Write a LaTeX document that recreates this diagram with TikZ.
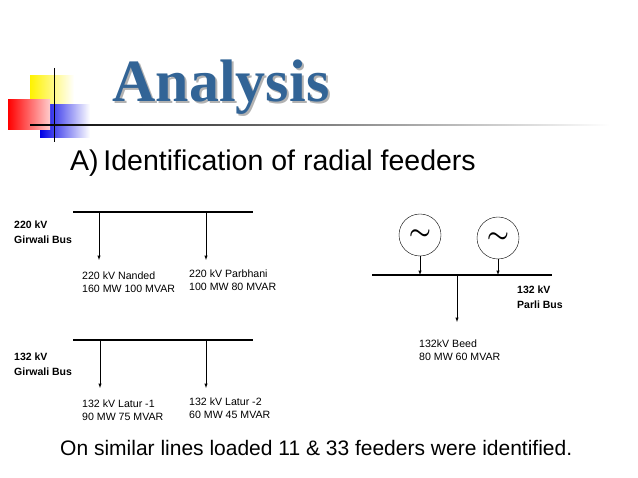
\documentclass[tikz,border=0pt]{standalone}
\usepackage{fontspec}
\setmainfont{Liberation Sans}
\newfontfamily\serifb{Liberation Serif}
\begin{document}
\begin{tikzpicture}[x=1pt,y=-1pt,
  bus/.style={line width=1.6pt},
  fd/.style={-latex,line width=0.5pt},
  lbl/.style={font=\fontsize{10.6}{12.5}\selectfont,align=left,anchor=north west,inner sep=0pt},
  bl/.style={font=\bfseries\fontsize{10.5}{15}\selectfont,align=left,anchor=north west,inner sep=0pt},
  gen/.style={circle,draw,minimum size=42pt,inner sep=0pt,font=\boldmath\fontsize{30}{30}\selectfont}]
\useasboundingbox (0,0) rectangle (638,478);
% logo
\shade[left color=yellow!90!orange,right color=white] (30,76) rectangle (74,118);
\shade[left color=blue!90!black,right color=white] (40,105) rectangle (90,138);
\shade[left color=red,right color=red!20] (8,100) rectangle (50,130);
\draw[line width=1pt] (54,68) -- (54,142);
\shade[left color=black,right color=white] (30,124.3) rectangle (610,125.8);
% title
\definecolor{ttlblue}{RGB}{50,100,150}
\node[font=\serifb\bfseries\fontsize{60}{60}\selectfont,inner sep=0pt] (ttl) at (221,88) {\rlap{\kern2pt\raisebox{-2pt}{\color{gray!60}Analysis}}\color{ttlblue}Analysis};
\node[anchor=west,font=\fontsize{28.5}{32}\selectfont,inner sep=0pt] (sub) at (70,163) {A)\,Identification of radial feeders};
% left top
\coordinate (b1l) at (73,212); \coordinate (b1r) at (253,212);
\draw[bus] (b1l) -- (b1r);
\coordinate (a1) at (99,212); \coordinate (a1e) at (99,260);
\coordinate (a2) at (206,212); \coordinate (a2e) at (206,260);
\draw[fd] (a1) -- (a1e); \draw[fd] (a2) -- (a2e);
\node[bl] (g1) at (14,221) {220 kV\\Girwali Bus};
\node[lbl] (n1) at (82,272) {220 kV Nanded\\160 MW 100 MVAR};
\node[lbl] (n2) at (189,270) {220 kV Parbhani\\100 MW 80 MVAR};
% left bottom
\coordinate (b2l) at (73,340); \coordinate (b2r) at (253,340);
\draw[bus] (b2l) -- (b2r);
\coordinate (c1) at (100,340); \coordinate (c1e) at (100,388);
\coordinate (c2) at (206,340); \coordinate (c2e) at (206,388);
\draw[fd] (c1) -- (c1e); \draw[fd] (c2) -- (c2e);
\node[bl] (g2) at (14,353) {132 kV\\Girwali Bus};
\node[lbl] (n3) at (82,400) {132 kV Latur -1\\90 MW 75 MVAR};
\node[lbl] (n4) at (189,398) {132 kV Latur -2\\60 MW 45 MVAR};
% right
\coordinate (b3l) at (372,275); \coordinate (b3r) at (552,275);
\draw[bus] (b3l) -- (b3r);
\node[gen] (G1) at (420,235) {$\sim$};
\node[gen] (G2) at (498,238) {$\sim$};
\coordinate (G1e) at (420,275); \coordinate (G2e) at (498,275);
\draw[fd] (G1) -- (G1e); \draw[fd] (G2) -- (G2e);
\coordinate (d1) at (457,275); \coordinate (d1e) at (457,322);
\draw[fd] (d1) -- (d1e);
\node[bl] (p) at (517,286) {132 kV\\Parli Bus};
\node[lbl] (n5) at (419,340) {132kV Beed\\80 MW 60 MVAR};
\node[anchor=west,font=\fontsize{21}{24}\selectfont,inner sep=0pt] (bot) at (60,448) {On similar lines loaded 11 \& 33 feeders were identified.};
\end{tikzpicture}
\end{document}
